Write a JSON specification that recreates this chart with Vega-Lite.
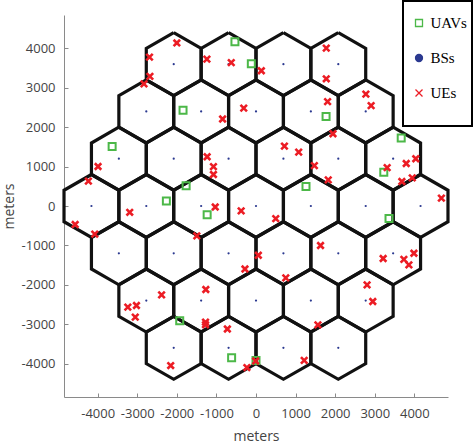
{
  "$schema": "https://vega.github.io/schema/vega-lite/v6.json",
  "autosize": {"type": "none"},
  "padding": {"left": 64, "top": 15, "right": 26, "bottom": 46},
  "width": 384,
  "height": 382,
  "datasets": {
    "cells": [
      {"c": 1, "vx": [-2078.5,-1385.6,-1385.6,-2078.5,-2771.3,-2771.3,-2078.5], "vy": [4400,4000,3200,2800,3200,4000,4400]},
      {"c": 2, "vx": [-692.8,0,0,-692.8,-1385.6,-1385.6,-692.8], "vy": [4400,4000,3200,2800,3200,4000,4400]},
      {"c": 3, "vx": [692.8,1385.6,1385.6,692.8,0,0,692.8], "vy": [4400,4000,3200,2800,3200,4000,4400]},
      {"c": 4, "vx": [2078.5,2771.3,2771.3,2078.5,1385.6,1385.6,2078.5], "vy": [4400,4000,3200,2800,3200,4000,4400]},
      {"c": 5, "vx": [-2771.3,-2078.5,-2078.5,-2771.3,-3464.1,-3464.1,-2771.3], "vy": [3200,2800,2000,1600,2000,2800,3200]},
      {"c": 6, "vx": [-1385.6,-692.8,-692.8,-1385.6,-2078.5,-2078.5,-1385.6], "vy": [3200,2800,2000,1600,2000,2800,3200]},
      {"c": 7, "vx": [0,692.8,692.8,0,-692.8,-692.8,0], "vy": [3200,2800,2000,1600,2000,2800,3200]},
      {"c": 8, "vx": [1385.6,2078.5,2078.5,1385.6,692.8,692.8,1385.6], "vy": [3200,2800,2000,1600,2000,2800,3200]},
      {"c": 9, "vx": [2771.3,3464.1,3464.1,2771.3,2078.5,2078.5,2771.3], "vy": [3200,2800,2000,1600,2000,2800,3200]},
      {"c": 10, "vx": [-3464.1,-2771.3,-2771.3,-3464.1,-4156.9,-4156.9,-3464.1], "vy": [2000,1600,800,400,800,1600,2000]},
      {"c": 11, "vx": [-2078.5,-1385.6,-1385.6,-2078.5,-2771.3,-2771.3,-2078.5], "vy": [2000,1600,800,400,800,1600,2000]},
      {"c": 12, "vx": [-692.8,0,0,-692.8,-1385.6,-1385.6,-692.8], "vy": [2000,1600,800,400,800,1600,2000]},
      {"c": 13, "vx": [692.8,1385.6,1385.6,692.8,0,0,692.8], "vy": [2000,1600,800,400,800,1600,2000]},
      {"c": 14, "vx": [2078.5,2771.3,2771.3,2078.5,1385.6,1385.6,2078.5], "vy": [2000,1600,800,400,800,1600,2000]},
      {"c": 15, "vx": [3464.1,4156.9,4156.9,3464.1,2771.3,2771.3,3464.1], "vy": [2000,1600,800,400,800,1600,2000]},
      {"c": 16, "vx": [-4156.9,-3464.1,-3464.1,-4156.9,-4849.7,-4849.7,-4156.9], "vy": [800,400,-400,-800,-400,400,800]},
      {"c": 17, "vx": [-2771.3,-2078.5,-2078.5,-2771.3,-3464.1,-3464.1,-2771.3], "vy": [800,400,-400,-800,-400,400,800]},
      {"c": 18, "vx": [-1385.6,-692.8,-692.8,-1385.6,-2078.5,-2078.5,-1385.6], "vy": [800,400,-400,-800,-400,400,800]},
      {"c": 19, "vx": [0,692.8,692.8,0,-692.8,-692.8,0], "vy": [800,400,-400,-800,-400,400,800]},
      {"c": 20, "vx": [1385.6,2078.5,2078.5,1385.6,692.8,692.8,1385.6], "vy": [800,400,-400,-800,-400,400,800]},
      {"c": 21, "vx": [2771.3,3464.1,3464.1,2771.3,2078.5,2078.5,2771.3], "vy": [800,400,-400,-800,-400,400,800]},
      {"c": 22, "vx": [4156.9,4849.7,4849.7,4156.9,3464.1,3464.1,4156.9], "vy": [800,400,-400,-800,-400,400,800]},
      {"c": 23, "vx": [-3464.1,-2771.3,-2771.3,-3464.1,-4156.9,-4156.9,-3464.1], "vy": [-400,-800,-1600,-2000,-1600,-800,-400]},
      {"c": 24, "vx": [-2078.5,-1385.6,-1385.6,-2078.5,-2771.3,-2771.3,-2078.5], "vy": [-400,-800,-1600,-2000,-1600,-800,-400]},
      {"c": 25, "vx": [-692.8,0,0,-692.8,-1385.6,-1385.6,-692.8], "vy": [-400,-800,-1600,-2000,-1600,-800,-400]},
      {"c": 26, "vx": [692.8,1385.6,1385.6,692.8,0,0,692.8], "vy": [-400,-800,-1600,-2000,-1600,-800,-400]},
      {"c": 27, "vx": [2078.5,2771.3,2771.3,2078.5,1385.6,1385.6,2078.5], "vy": [-400,-800,-1600,-2000,-1600,-800,-400]},
      {"c": 28, "vx": [3464.1,4156.9,4156.9,3464.1,2771.3,2771.3,3464.1], "vy": [-400,-800,-1600,-2000,-1600,-800,-400]},
      {"c": 29, "vx": [-2771.3,-2078.5,-2078.5,-2771.3,-3464.1,-3464.1,-2771.3], "vy": [-1600,-2000,-2800,-3200,-2800,-2000,-1600]},
      {"c": 30, "vx": [-1385.6,-692.8,-692.8,-1385.6,-2078.5,-2078.5,-1385.6], "vy": [-1600,-2000,-2800,-3200,-2800,-2000,-1600]},
      {"c": 31, "vx": [0,692.8,692.8,0,-692.8,-692.8,0], "vy": [-1600,-2000,-2800,-3200,-2800,-2000,-1600]},
      {"c": 32, "vx": [1385.6,2078.5,2078.5,1385.6,692.8,692.8,1385.6], "vy": [-1600,-2000,-2800,-3200,-2800,-2000,-1600]},
      {"c": 33, "vx": [2771.3,3464.1,3464.1,2771.3,2078.5,2078.5,2771.3], "vy": [-1600,-2000,-2800,-3200,-2800,-2000,-1600]},
      {"c": 34, "vx": [-2078.5,-1385.6,-1385.6,-2078.5,-2771.3,-2771.3,-2078.5], "vy": [-2800,-3200,-4000,-4400,-4000,-3200,-2800]},
      {"c": 35, "vx": [-692.8,0,0,-692.8,-1385.6,-1385.6,-692.8], "vy": [-2800,-3200,-4000,-4400,-4000,-3200,-2800]},
      {"c": 36, "vx": [692.8,1385.6,1385.6,692.8,0,0,692.8], "vy": [-2800,-3200,-4000,-4400,-4000,-3200,-2800]},
      {"c": 37, "vx": [2078.5,2771.3,2771.3,2078.5,1385.6,1385.6,2078.5], "vy": [-2800,-3200,-4000,-4400,-4000,-3200,-2800]}
    ],
    "pts": [
      {"type": "BSs", "x": -2078.5, "y": 3600}, {"type": "BSs", "x": -692.8, "y": 3600}, {"type": "BSs", "x": 692.8, "y": 3600}, {"type": "BSs", "x": 2078.5, "y": 3600},
      {"type": "BSs", "x": -2771.3, "y": 2400}, {"type": "BSs", "x": -1385.6, "y": 2400}, {"type": "BSs", "x": 0, "y": 2400}, {"type": "BSs", "x": 1385.6, "y": 2400}, {"type": "BSs", "x": 2771.3, "y": 2400},
      {"type": "BSs", "x": -3464.1, "y": 1200}, {"type": "BSs", "x": -2078.5, "y": 1200}, {"type": "BSs", "x": -692.8, "y": 1200}, {"type": "BSs", "x": 692.8, "y": 1200}, {"type": "BSs", "x": 2078.5, "y": 1200}, {"type": "BSs", "x": 3464.1, "y": 1200},
      {"type": "BSs", "x": -4156.9, "y": 0}, {"type": "BSs", "x": -2771.3, "y": 0}, {"type": "BSs", "x": -1385.6, "y": 0}, {"type": "BSs", "x": 0, "y": 0}, {"type": "BSs", "x": 1385.6, "y": 0}, {"type": "BSs", "x": 2771.3, "y": 0}, {"type": "BSs", "x": 4156.9, "y": 0},
      {"type": "BSs", "x": -3464.1, "y": -1200}, {"type": "BSs", "x": -2078.5, "y": -1200}, {"type": "BSs", "x": -692.8, "y": -1200}, {"type": "BSs", "x": 692.8, "y": -1200}, {"type": "BSs", "x": 2078.5, "y": -1200}, {"type": "BSs", "x": 3464.1, "y": -1200},
      {"type": "BSs", "x": -2771.3, "y": -2400}, {"type": "BSs", "x": -1385.6, "y": -2400}, {"type": "BSs", "x": 0, "y": -2400}, {"type": "BSs", "x": 1385.6, "y": -2400}, {"type": "BSs", "x": 2771.3, "y": -2400},
      {"type": "BSs", "x": -2078.5, "y": -3600}, {"type": "BSs", "x": -692.8, "y": -3600}, {"type": "BSs", "x": 692.8, "y": -3600}, {"type": "BSs", "x": 2078.5, "y": -3600},
      {"type": "UAVs", "x": -532, "y": 4170},
      {"type": "UAVs", "x": -118, "y": 3610},
      {"type": "UAVs", "x": -1843, "y": 2430},
      {"type": "UAVs", "x": 1770, "y": 2273},
      {"type": "UAVs", "x": 3668, "y": 1725},
      {"type": "UAVs", "x": -3634, "y": 1511},
      {"type": "UAVs", "x": -1765, "y": 517},
      {"type": "UAVs", "x": -2264, "y": 127},
      {"type": "UAVs", "x": 1263, "y": 495},
      {"type": "UAVs", "x": 3228, "y": 856},
      {"type": "UAVs", "x": -1234, "y": -224},
      {"type": "UAVs", "x": 3360, "y": -320},
      {"type": "UAVs", "x": -1927, "y": -2912},
      {"type": "UAVs", "x": -616, "y": -3855},
      {"type": "UAVs", "x": 0, "y": -3925},
      {"type": "UEs", "x": -2000, "y": 4140},
      {"type": "UEs", "x": -2690, "y": 3780},
      {"type": "UEs", "x": -2680, "y": 3290},
      {"type": "UEs", "x": -2830, "y": 3100},
      {"type": "UEs", "x": -1240, "y": 3730},
      {"type": "UEs", "x": -625, "y": 3640},
      {"type": "UEs", "x": 135, "y": 3435},
      {"type": "UEs", "x": 1775, "y": 4010},
      {"type": "UEs", "x": 1775, "y": 3230},
      {"type": "UEs", "x": -310, "y": 2487},
      {"type": "UEs", "x": -844, "y": 2210},
      {"type": "UEs", "x": 1808, "y": 2650},
      {"type": "UEs", "x": 2775, "y": 2842},
      {"type": "UEs", "x": 2908, "y": 2550},
      {"type": "UEs", "x": 1944, "y": 1834},
      {"type": "UEs", "x": -3990, "y": 1003},
      {"type": "UEs", "x": -4234, "y": 630},
      {"type": "UEs", "x": -1234, "y": 1250},
      {"type": "UEs", "x": -1075, "y": 1000},
      {"type": "UEs", "x": -1075, "y": 800},
      {"type": "UEs", "x": 718, "y": 1520},
      {"type": "UEs", "x": 1078, "y": 1369},
      {"type": "UEs", "x": 1475, "y": 1025},
      {"type": "UEs", "x": 1825, "y": 665},
      {"type": "UEs", "x": 3313, "y": 975},
      {"type": "UEs", "x": 3795, "y": 1080},
      {"type": "UEs", "x": 4036, "y": 1199},
      {"type": "UEs", "x": 3947, "y": 715},
      {"type": "UEs", "x": 3685, "y": 622},
      {"type": "UEs", "x": 4683, "y": 201},
      {"type": "UEs", "x": -1030, "y": -25},
      {"type": "UEs", "x": -375, "y": -125},
      {"type": "UEs", "x": -3190, "y": -160},
      {"type": "UEs", "x": -4568, "y": -470},
      {"type": "UEs", "x": -4073, "y": -714},
      {"type": "UEs", "x": -1495, "y": -757},
      {"type": "UEs", "x": 499, "y": -320},
      {"type": "UEs", "x": 1630, "y": -1003},
      {"type": "UEs", "x": 59, "y": -1250},
      {"type": "UEs", "x": -279, "y": -1600},
      {"type": "UEs", "x": 752, "y": -1825},
      {"type": "UEs", "x": 3212, "y": -1333},
      {"type": "UEs", "x": 3735, "y": -1355},
      {"type": "UEs", "x": 3989, "y": -1200},
      {"type": "UEs", "x": 3862, "y": -1494},
      {"type": "UEs", "x": 2806, "y": -2002},
      {"type": "UEs", "x": 2950, "y": -2425},
      {"type": "UEs", "x": -2385, "y": -2255},
      {"type": "UEs", "x": -1268, "y": -2120},
      {"type": "UEs", "x": -3238, "y": -2568},
      {"type": "UEs", "x": -3020, "y": -2527},
      {"type": "UEs", "x": -3050, "y": -2822},
      {"type": "UEs", "x": -1275, "y": -2950},
      {"type": "UEs", "x": -1275, "y": -3015},
      {"type": "UEs", "x": -723, "y": -3123},
      {"type": "UEs", "x": 1564, "y": -3018},
      {"type": "UEs", "x": 1217, "y": -3920},
      {"type": "UEs", "x": -2155, "y": -4051},
      {"type": "UEs", "x": -230, "y": -4102},
      {"type": "UEs", "x": -10, "y": -3935}
    ]
  },
  "layer": [
    {
      "data": {"name": "cells"},
      "transform": [{"flatten": ["vx", "vy"]}],
      "mark": {"type": "line", "color": "#111111", "strokeWidth": 3.2, "strokeJoin": "miter", "clip": false},
      "encoding": {
        "x": {"field": "vx", "type": "quantitative", "scale": {"domain": [-4850, 4850], "nice": false, "zero": false}},
        "y": {"field": "vy", "type": "quantitative", "scale": {"domain": [-4850, 4850], "nice": false, "zero": false}},
        "detail": {"field": "c", "type": "nominal"},
        "order": {"value": null}
      }
    },
    {
      "data": {"name": "pts"},
      "mark": {"type": "point", "opacity": 1},
      "encoding": {
        "x": {"field": "x", "type": "quantitative", "title": "meters",
          "scale": {"domain": [-4850, 4850], "nice": false, "zero": false},
          "axis": {"values": [-4000, -3000, -2000, -1000, 0, 1000, 2000, 3000, 4000], "labelExpr": "datum.value + ''", "labelPadding": 14, "titlePadding": 9}},
        "y": {"field": "y", "type": "quantitative", "title": "meters",
          "scale": {"domain": [-4850, 4850], "nice": false, "zero": false},
          "axis": {"values": [-4000, -3000, -2000, -1000, 0, 1000, 2000, 3000, 4000], "labelExpr": "datum.value + ''", "labelPadding": 13, "titlePadding": 5}},
        "stroke": {"field": "type", "type": "nominal", "title": " ",
          "scale": {"domain": ["UAVs", "BSs", "UEs"], "range": ["#4cb848", "#2b3990", "#ec1c24"]},
          "legend": {
            "orient": "none",
            "legendX": 339,
            "legendY": -14,
            "padding": 5,
            "strokeColor": "#000000",
            "fillColor": "#ffffff",
            "symbolSize": 49,
            "symbolStrokeWidth": 1.3,
            "symbolOffset": 3.5,
            "labelOffset": 4,
            "labelFont": "Liberation Serif",
            "labelFontSize": 15,
            "labelColor": "#000000",
            "clipHeight": 34,
            "rowPadding": 1,
            "titleOrient": "bottom",
            "titleFontSize": 8,
            "titlePadding": 3
          }},
        "fill": {"field": "type", "type": "nominal", "title": " ",
          "scale": {"domain": ["UAVs", "BSs", "UEs"], "range": ["transparent", "#2b3990", "transparent"]}},
        "shape": {"field": "type", "type": "nominal", "title": " ",
          "scale": {"domain": ["UAVs", "BSs", "UEs"], "range": ["square", "circle", "M-1,-1L1,1M-1,1L1,-1"]}},
        "size": {"field": "type", "type": "nominal", "legend": null,
          "scale": {"type": "ordinal", "domain": ["BSs", "UEs", "UAVs"], "range": [5, 42, 49]}},
        "strokeWidth": {"field": "type", "type": "nominal", "legend": null,
          "scale": {"type": "ordinal", "domain": ["BSs", "UEs", "UAVs"], "range": [0, 2.6, 2]}}
      }
    }
  ],
  "config": {
    "view": {"stroke": null},
    "axis": {
      "grid": false,
      "domainColor": "#8a8a8a",
      "tickColor": "#8a8a8a",
      "tickSize": -4,
      "labelFont": "Open Sans",
      "labelFontSize": 13,
      "labelColor": "#444444",
      "titleFont": "Open Sans",
      "titleFontSize": 14,
      "titleFontWeight": "normal",
      "titleColor": "#444444"
    },
    "legend": {
      "strokeWidth": 2
    }
  }
}
